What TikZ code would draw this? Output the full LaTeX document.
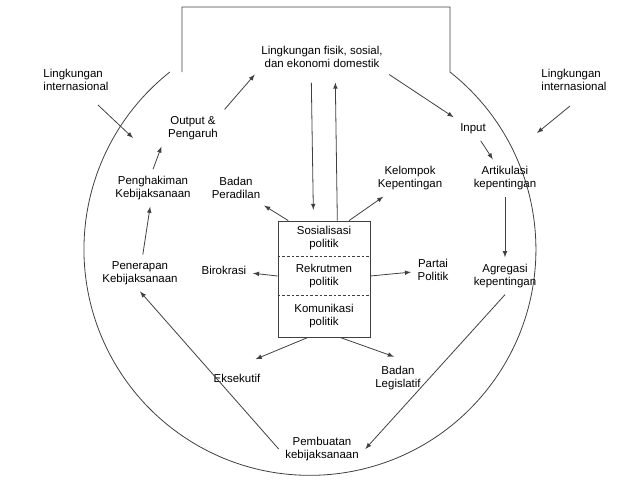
\documentclass[tikz,border=0pt]{standalone}
\usepackage{fontspec}
\setmainfont{Liberation Sans}
\begin{document}
\begin{tikzpicture}[x=0.75pt,y=-0.75pt,
  lbl/.style={align=center,font=\fontsize{8.6}{10}\selectfont,inner sep=2pt,outer sep=3pt},
  ln/.style={line width=0.6pt,draw=black!75},
  arr/.style={ln,-latex}]
\useasboundingbox (0,0) rectangle (640,486);
% outer shape
\draw[ln] (182,72) -- (182,7) -- (450,7) -- (450,72) arc[start angle=-51.7,end angle=231.7,radius=226];
% box
\node[draw=black!75,line width=0.6pt,minimum width=69pt,minimum height=87pt,inner sep=0] (box) at (324,279) {};
\node[lbl] (sos) at (324,238) {Sosialisasi\\politik};
\node[lbl] (rek) at (324,276) {Rekrutmen\\politik};
\node[lbl] (kom) at (324,316) {Komunikasi\\politik};
\draw[ln,dashed,dash pattern=on 2pt off 1.5pt] (box.west |- 0,256) -- (box.east |- 0,256);
\draw[ln,dashed,dash pattern=on 2pt off 1.5pt] (box.west |- 0,295) -- (box.east |- 0,295);
% labels
\node[lbl,align=left] (lil) at (76,80) {Lingkungan\\internasional};
\node[lbl,align=left] (lir) at (574,80) {Lingkungan\\internasional};
\node[lbl] (env) at (322,57) {Lingkungan fisik, sosial,\\dan ekonomi domestik};
\node[lbl] (inp) at (473,129) {Input};
\node[lbl] (art) at (505,178) {Artikulasi\\kepentingan};
\node[lbl] (agr) at (505,276) {Agregasi\\kepentingan};
\node[lbl] (pem) at (322,449) {Pembuatan\\kebijaksanaan};
\node[lbl] (pen) at (140,273) {Penerapan\\Kebijaksanaan};
\node[lbl] (phk) at (153,188) {Penghakiman\\Kebijaksanaan};
\node[lbl] (out) at (193,128) {Output \&\\Pengaruh};
\node[lbl] (per) at (236,188) {Badan\\Peradilan};
\node[lbl] (kel) at (410,178) {Kelompok\\Kepentingan};
\node[lbl] (bir) at (224,270) {Birokrasi};
\node[lbl] (par) at (433,270) {Partai\\Politik};
\node[lbl] (eks) at (237,378) {Eksekutif};
\node[lbl] (leg) at (398,378) {Badan\\Legislatif};
\coordinate (l1) at (98,105);
\coordinate (r1) at (570,106);
% connectors
\draw[arr] (l1) -- (133,138);
\draw[arr] (r1) -- (537,133);
\draw[arr] (out.north east) -- (env.south west);
\draw[arr] (env.south east) -- (inp.north west);
\draw[arr] ([xshift=-8,yshift=-6]env.south) -- ([xshift=-8,yshift=8]box.north);
\draw[arr] ([xshift=10]box.north) -- ([xshift=10,yshift=-6]env.south);
\draw[arr] (inp) -- (art);
\draw[arr] (art) -- (agr);
\draw[arr] (agr.south) -- (pem.east);
\draw[arr] (pem.west) -- (pen.south);
\draw[arr] (pen) -- (phk);
\draw[arr] (phk.north) -- (out.south west);
\draw[arr] ([xshift=8]box.north west) -- (per);
\draw[arr] ([xshift=-16]box.north east) -- (kel);
\draw[arr] (box.west |- rek) -- (bir);
\draw[arr] (box.east |- rek) -- (par);
\draw[arr] ([xshift=-12]box.south) -- ([xshift=14,yshift=6]eks.north);
\draw[arr] ([xshift=12]box.south) -- ([xshift=-3,yshift=2]leg.north);
\end{tikzpicture}
\end{document}
